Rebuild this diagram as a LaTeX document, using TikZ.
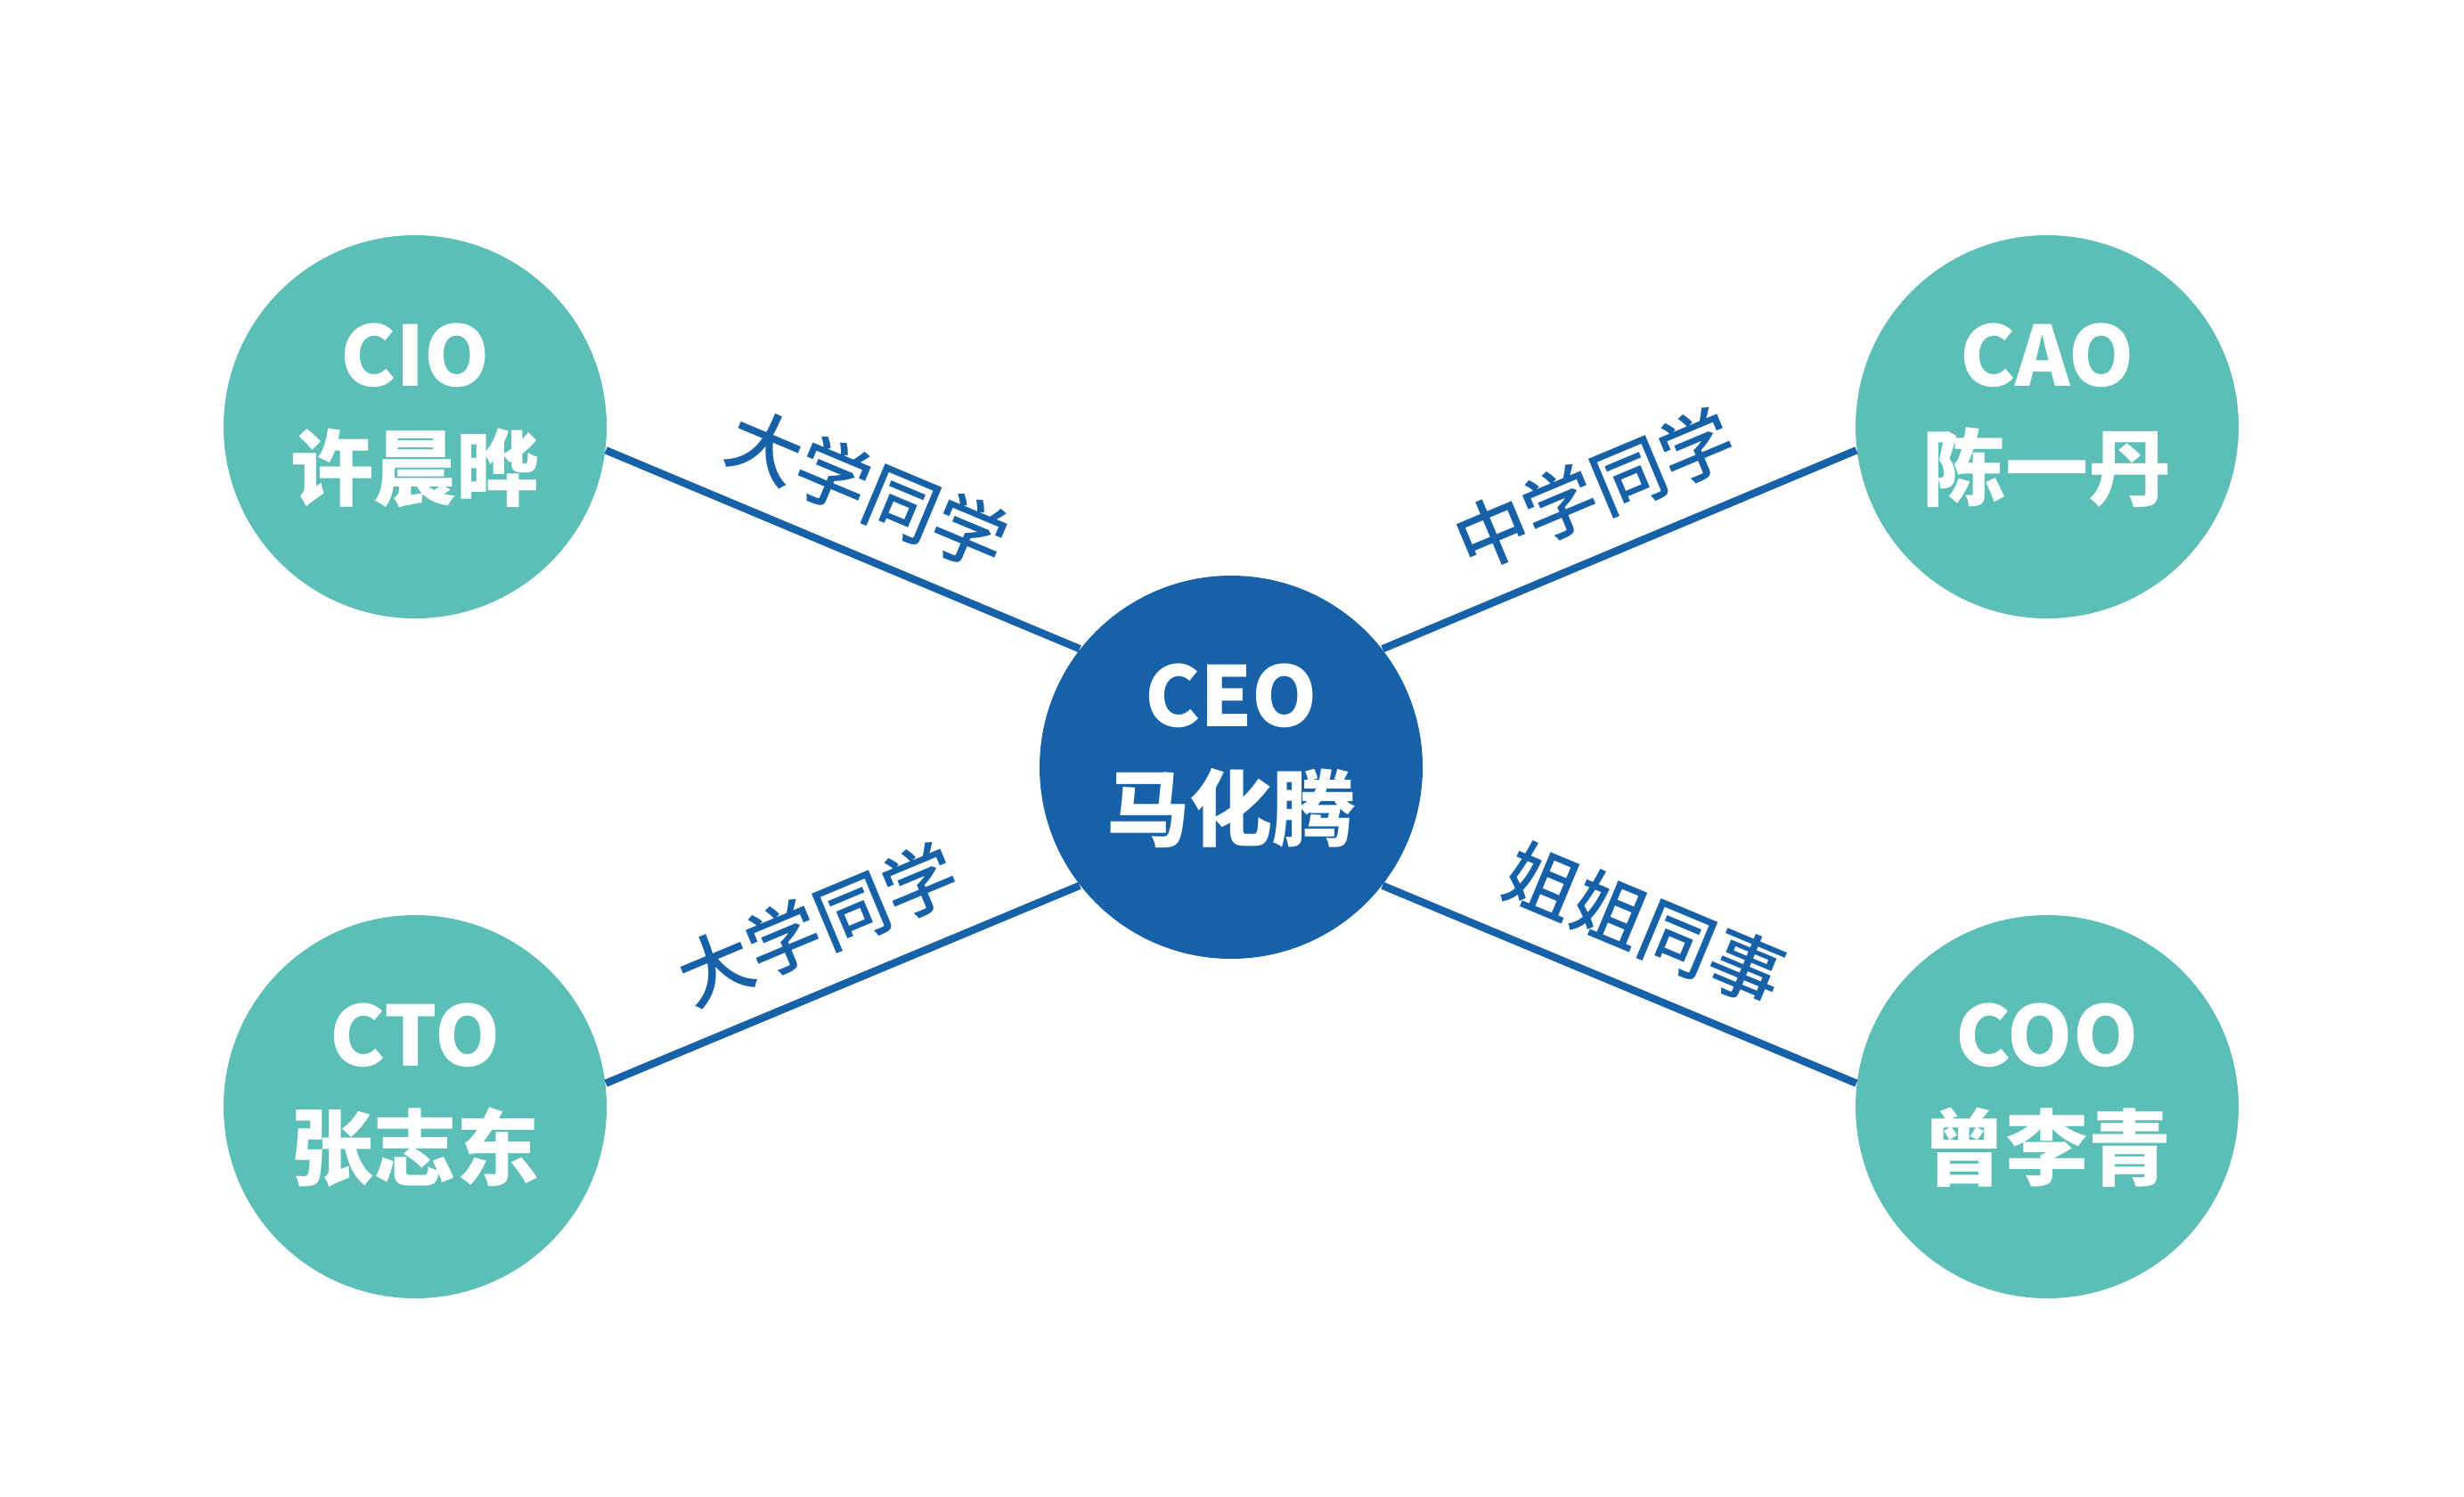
\documentclass[tikz,border=0pt]{standalone}
\usepackage{fontspec}
\setmainfont{Noto Sans CJK SC}
\newfontfamily\tiefont{Noto Sans CJK SC Medium}
\usepackage{tikz}
\usetikzlibrary{positioning}
\definecolor{TealFill}{HTML}{5CBFB7}
\definecolor{DeepBlue}{HTML}{1661A8}

\begin{document}
\begin{tikzpicture}[
  every node/.style={align=center},
  member/.style={circle, fill=TealFill, text=white, minimum size=4.3cm, inner sep=0pt,
    text depth=0.35cm, font=\fontsize{26.5}{36}\selectfont\bfseries},
  boss/.style={member, fill=DeepBlue},
  link/.style={DeepBlue, line width=2.4pt},
  tie/.style={sloped, above=0.3cm, inner sep=0pt, text=DeepBlue, font=\tiefont\fontsize{23.5}{28}\selectfont}
]
  \useasboundingbox (0,0) rectangle (27.66,16.79);

  % Centre circle
  \node[boss] (ceo) at (13.82,8.18) {CEO\\马化腾};

  % Four corner circles
  \node[member] (cio) at (4.66,12.00)  {CIO\\许晨晔};
  \node[member] (cao) at (22.98,12.00) {CAO\\陈一丹};
  \node[member] (cto) at (4.66,4.37)   {CTO\\张志东};
  \node[member] (coo) at (22.98,4.37)  {COO\\曾李青};

  % Links, each with its relation above the line
  \draw[link] (cio.-7) -- node[tie] {大学同学} (ceo.142);
  \draw[link] (ceo.38) -- node[tie] {中学同学} (cao.187);
  \draw[link] (cto.7) -- node[tie] {大学同学} (ceo.218);
  \draw[link] (ceo.322) -- node[tie] {姐姐同事} (coo.173);
\end{tikzpicture}
\end{document}
